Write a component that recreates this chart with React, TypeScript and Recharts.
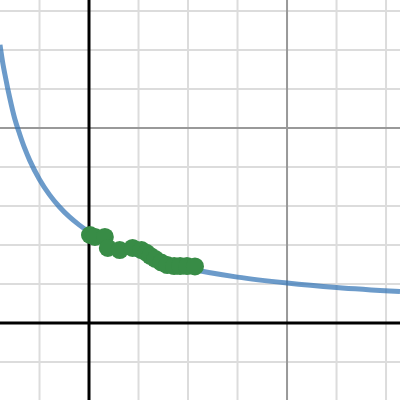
import {
  ComposedChart,
  XAxis,
  YAxis,
  Line,
  Scatter,
  ReferenceLine,
} from "recharts";

// visible window of the graph
const xDomain = [-0.899, 3.141];
const yDomain = [-0.395, 1.656];

// grid
const minorX = [-0.5, 0.5, 1, 1.5, 2.5, 3];
const majorX = [2];
const minorY = [-0.2, 0.2, 0.4, 0.6, 0.8, 1.2, 1.4, 1.6];
const majorY = [1];

// fitted curve
const curveX = [-0.899, -0.87, -0.85, -0.82, -0.8, -0.75, -0.7, -0.65, -0.6, -0.5, -0.4, -0.3, -0.2, -0.1, 0, 0.25, 0.5, 0.75, 1, 1.5, 2, 2.5, 3.141];
const curveY = [1.426, 1.33, 1.276, 1.2, 1.153, 1.047, 0.968, 0.896, 0.835, 0.736, 0.658, 0.596, 0.545, 0.503, 0.467, 0.397, 0.347, 0.309, 0.279, 0.235, 0.205, 0.182, 0.161];

// measured points (green)
const pointX = [0.01, 0.06, 0.16, 0.19, 0.31, 0.44, 0.53, 0.58, 0.62, 0.67, 0.73, 0.79, 0.86, 0.92, 0.99, 1.07];
const pointY = [0.451, 0.441, 0.441, 0.385, 0.374, 0.385, 0.374, 0.36, 0.344, 0.328, 0.31, 0.297, 0.292, 0.292, 0.292, 0.29];

const curve = curveX.map((x, i) => ({ x, y: curveY[i] }));
const points = pointX.map((x, i) => ({ x, y: pointY[i] }));

const Dot = (props: any) => (
  <circle cx={props.cx} cy={props.cy} r={9} fill="#388c46" />
);

export default function App() {
  return (
    <div style={{ position: "fixed", left: 0, top: 0, background: "#fff" }}>
      <ComposedChart width={400} height={400} margin={{ top: 0, right: 0, bottom: 0, left: 0 }}>
        <XAxis type="number" dataKey="x" domain={xDomain} allowDataOverflow hide />
        <YAxis type="number" dataKey="y" domain={yDomain} allowDataOverflow hide />
        {minorX.map((v) => (
          <ReferenceLine key={`mx${v}`} x={v} stroke="#dcdcdc" strokeWidth={2} />
        ))}
        {minorY.map((v) => (
          <ReferenceLine key={`my${v}`} y={v} stroke="#dcdcdc" strokeWidth={2} />
        ))}
        {majorX.map((v) => (
          <ReferenceLine key={`Mx${v}`} x={v} stroke="#999" strokeWidth={2} />
        ))}
        {majorY.map((v) => (
          <ReferenceLine key={`My${v}`} y={v} stroke="#999" strokeWidth={2} />
        ))}
        <ReferenceLine x={0} stroke="#000" strokeWidth={3} />
        <ReferenceLine y={0} stroke="#000" strokeWidth={3} />
        <Scatter data={points} dataKey="y" shape={Dot} isAnimationActive={false} />
        <Line
          data={curve}
          dataKey="y"
          type="monotone"
          stroke="#2d70b3"
          strokeOpacity={0.7}
          strokeWidth={5}
          dot={false}
          activeDot={false}
          isAnimationActive={false}
        />
      </ComposedChart>
    </div>
  );
}
